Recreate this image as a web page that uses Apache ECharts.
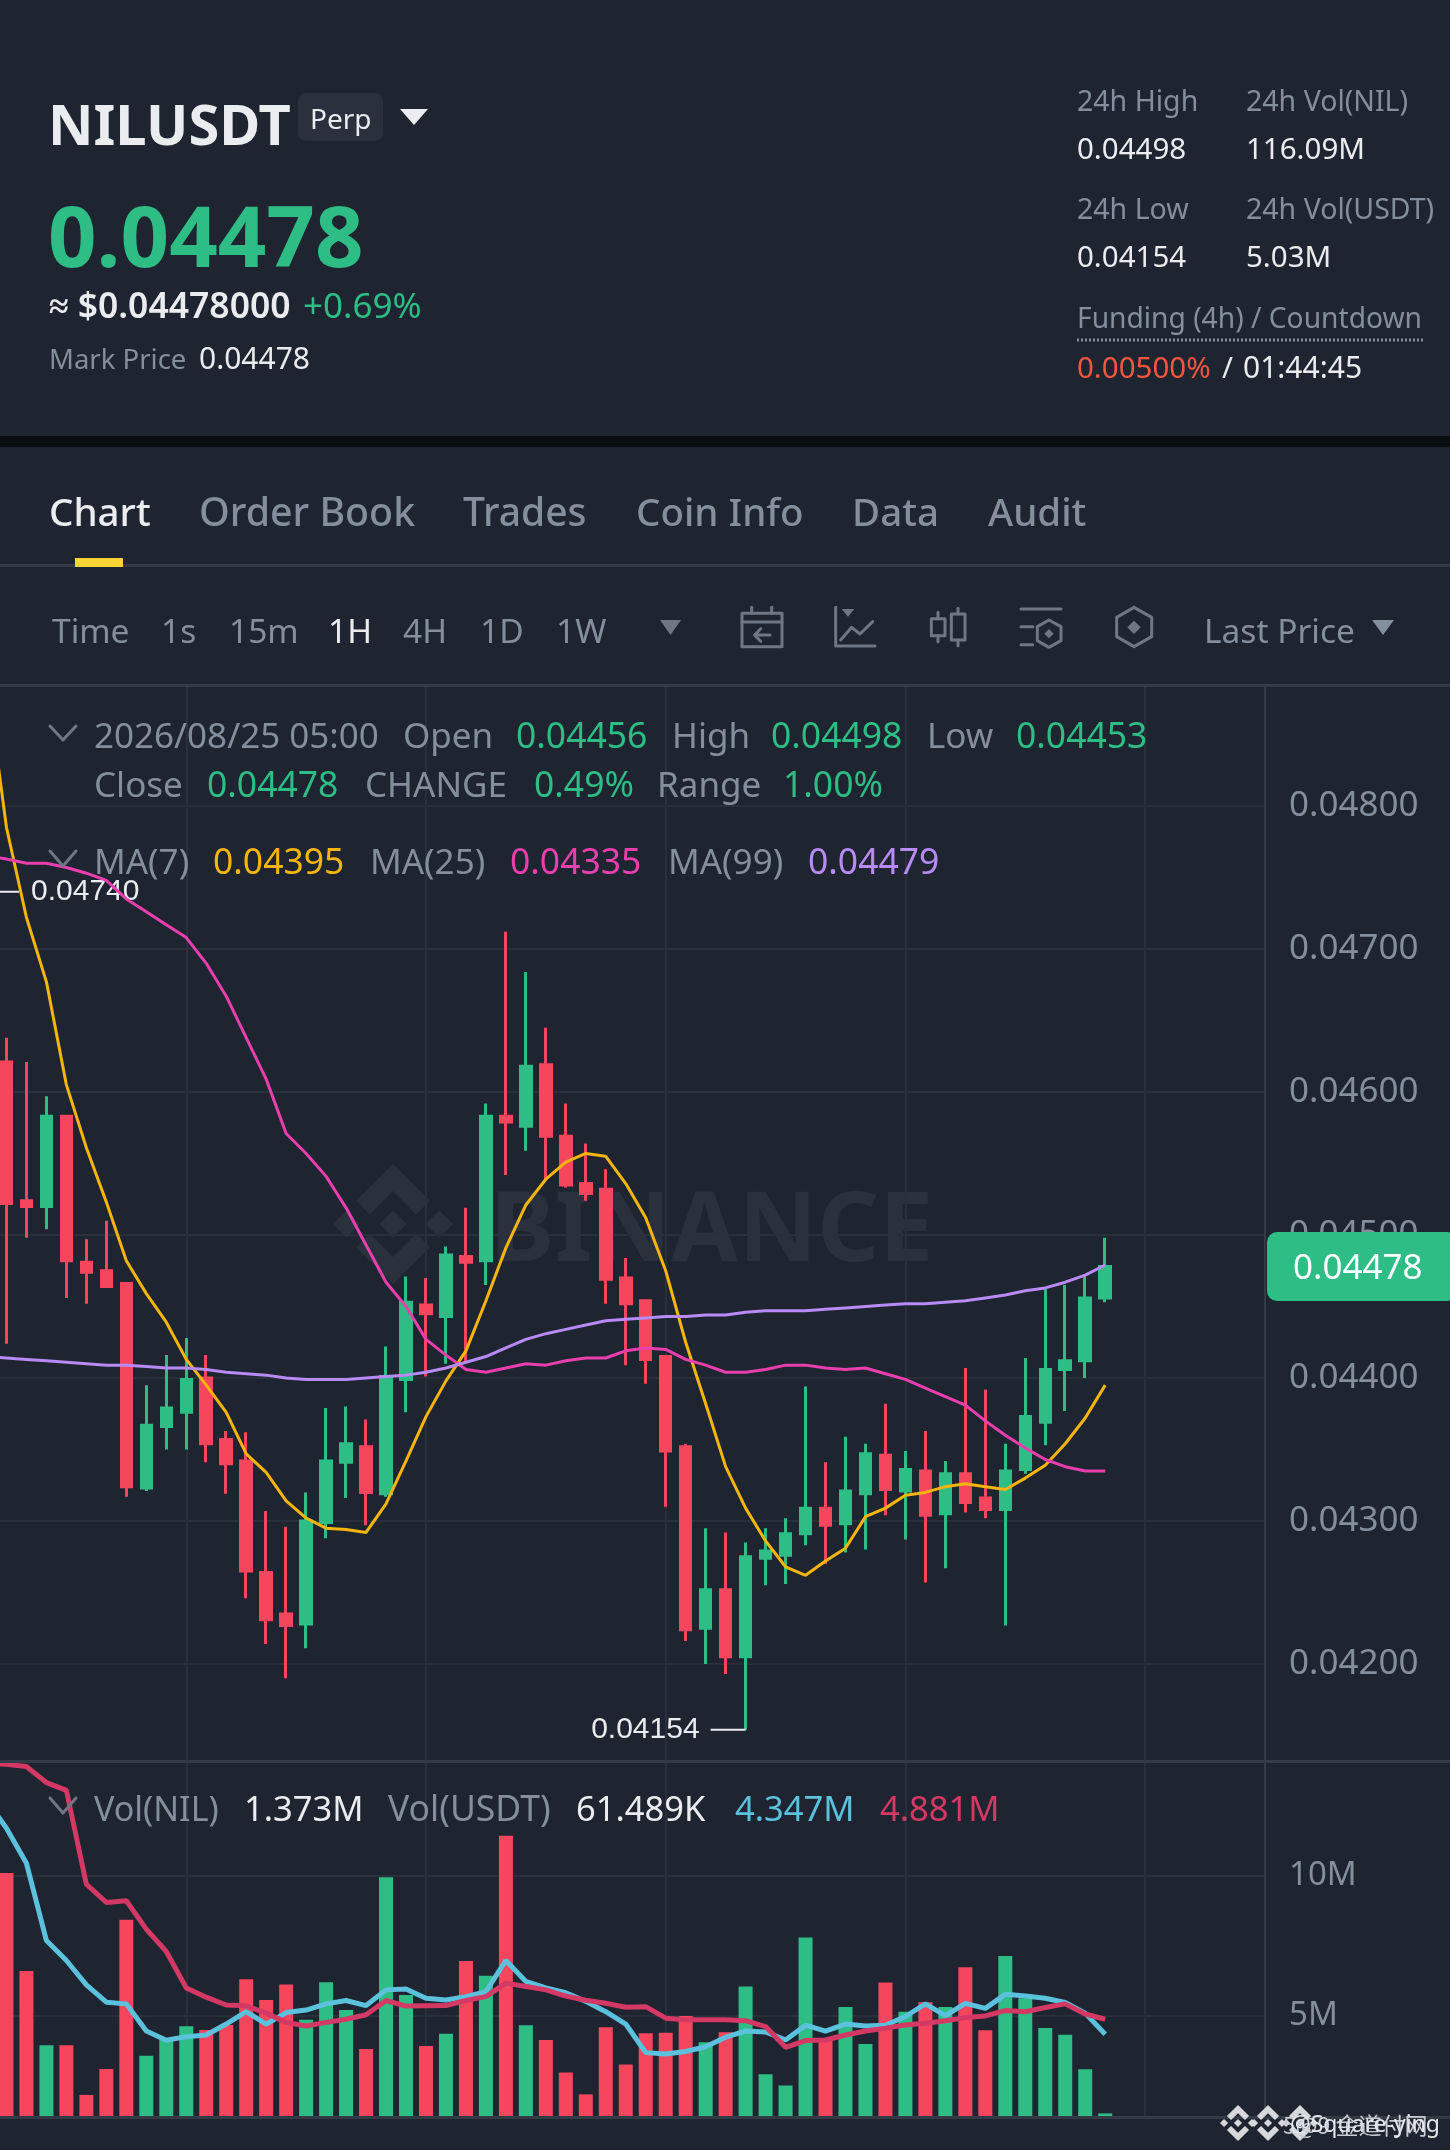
<!DOCTYPE html>
<html><head><meta charset="utf-8">
<style>html,body{margin:0;padding:0;background:#1e2530}#c{width:1450px;height:2150px}</style>
<script src="https://cdn.jsdelivr.net/npm/echarts@6/dist/echarts.min.js"></script>
</head><body><div id="c"></div>
<script>
// slots: first is the off-screen candle left of the view, the rest run up to the empty space at the right
const categories = [];
for (let i = 0; i < 65; i++) {
  const d = new Date(Date.UTC(2026, 7, 25, 5 - (56 - i)));
  categories.push(d.toISOString().slice(5, 16).replace('-', '/').replace('T', ' '));
}
const opens  = [0.04705,0.04621,0.04524,0.04520,0.04583,0.04481,0.04475,0.04466,0.04323,0.04366,0.04376,0.04400,0.04357,0.04342,0.04264,0.04235,0.04228,0.04299,0.04341,0.04352,0.04319,0.04399,0.04451,0.04443,0.04485,0.04482,0.04583,0.04576,0.04619,0.04569,0.04536,0.04532,0.04470,0.04454,0.04415,0.04352,0.04225,0.04252,0.04205,0.04274,0.04276,0.04291,0.04309,0.04298,0.04319,0.04346,0.04321,0.04335,0.04305,0.04333,0.04316,0.04308,0.04336,0.04369,0.04406,0.04412,0.04456];
const closes = [0.04625,0.04522,0.04520,0.04583,0.04482,0.04474,0.04464,0.04324,0.04367,0.04379,0.04399,0.04354,0.04340,0.04265,0.04231,0.04227,0.04300,0.04342,0.04354,0.04320,0.04401,0.04453,0.04445,0.04486,0.04481,0.04583,0.04579,0.04618,0.04569,0.04535,0.04529,0.04469,0.04452,0.04413,0.04349,0.04224,0.04252,0.04205,0.04275,0.04279,0.04291,0.04309,0.04297,0.04321,0.04347,0.04322,0.04336,0.04304,0.04333,0.04313,0.04308,0.04335,0.04373,0.04406,0.04412,0.04456,0.04478];
const lows   = [0.04610,0.04424,0.04498,0.04504,0.04456,0.04452,0.04463,0.04317,0.04321,0.04350,0.04350,0.04341,0.04319,0.04246,0.04214,0.04190,0.04211,0.04288,0.04316,0.04297,0.04317,0.04376,0.04401,0.04410,0.04410,0.04465,0.04542,0.04559,0.04538,0.04533,0.04524,0.04452,0.04409,0.04396,0.04310,0.04216,0.04200,0.04193,0.04154,0.04255,0.04256,0.04283,0.04270,0.04278,0.04280,0.04304,0.04287,0.04257,0.04267,0.04306,0.04302,0.04227,0.04333,0.04353,0.04377,0.04400,0.04453];
const highs  = [0.04740,0.04638,0.04621,0.04597,0.04583,0.04497,0.04510,0.04467,0.04395,0.04416,0.04428,0.04416,0.04363,0.04362,0.04307,0.04296,0.04320,0.04379,0.04380,0.04371,0.04422,0.04471,0.04470,0.04492,0.04519,0.04592,0.04712,0.04684,0.04645,0.04592,0.04564,0.04546,0.04484,0.04455,0.04416,0.04354,0.04295,0.04292,0.04285,0.04295,0.04302,0.04394,0.04341,0.04359,0.04354,0.04382,0.04349,0.04363,0.04342,0.04407,0.04392,0.04354,0.04414,0.04462,0.04465,0.04472,0.04498];
const ma7  = [0.04890,0.04785,0.04722,0.04677,0.04605,0.04561,0.04523,0.04482,0.04459,0.04439,0.04413,0.04395,0.04376,0.04347,0.04334,0.04314,0.04302,0.04295,0.04294,0.04292,0.04312,0.04342,0.04373,0.04398,0.04419,0.04454,0.04491,0.04521,0.04539,0.04551,0.04557,0.04555,0.04536,0.04512,0.04475,0.04425,0.04382,0.04338,0.04309,0.04286,0.04268,0.04262,0.04272,0.04281,0.04303,0.04309,0.04318,0.04320,0.04324,0.04326,0.04324,0.04322,0.04330,0.04339,0.04354,0.04372,0.04395];
const ma25 = [0.04765,0.04763,0.04760,0.04760,0.04757,0.04753,0.04748,0.04735,0.04726,0.04717,0.04708,0.04690,0.04667,0.04638,0.04609,0.04571,0.04557,0.04541,0.04519,0.04493,0.04467,0.04450,0.04427,0.04416,0.04406,0.04404,0.04407,0.04410,0.04409,0.04412,0.04414,0.04414,0.04419,0.04421,0.04420,0.04413,0.04409,0.04404,0.04404,0.04406,0.04409,0.04409,0.04407,0.04406,0.04407,0.04403,0.04399,0.04393,0.04387,0.04381,0.04370,0.04360,0.04351,0.04343,0.04338,0.04335,0.04335];
const ma99 = [0.04415,0.04414,0.04413,0.04412,0.04411,0.04410,0.04409,0.04409,0.04408,0.04407,0.04407,0.04406,0.04404,0.04403,0.04402,0.04400,0.04399,0.04399,0.04399,0.04400,0.04401,0.04402,0.04404,0.04407,0.04411,0.04415,0.04421,0.04427,0.04431,0.04434,0.04437,0.04440,0.04441,0.04442,0.04443,0.04443,0.04444,0.04444,0.04446,0.04447,0.04447,0.04447,0.04448,0.04449,0.04450,0.04451,0.04452,0.04452,0.04453,0.04454,0.04456,0.04458,0.04461,0.04463,0.04467,0.04472,0.04479];
// volume in millions
const volume = [9.00,10.10,6.60,3.95,3.95,2.18,3.11,8.43,3.58,4.15,4.63,4.50,4.68,6.31,5.57,6.12,4.86,6.20,5.21,3.82,9.95,5.75,3.93,4.36,6.96,6.43,11.43,4.67,4.14,2.98,2.20,4.60,3.27,4.38,4.40,5.00,4.06,4.42,6.05,2.92,2.52,7.80,4.12,5.32,4.00,6.19,5.15,5.49,5.32,6.74,4.49,7.14,5.63,4.57,4.33,3.10,1.52];
const volMaA = [12.71,11.70,10.45,7.69,6.98,6.11,5.49,5.43,4.46,4.13,4.26,4.32,4.71,5.15,4.71,5.12,5.21,5.43,5.55,5.37,5.93,5.96,5.63,5.57,5.69,5.87,6.98,6.23,6.00,5.83,5.52,5.15,4.71,3.69,3.64,3.73,3.90,4.24,4.46,4.43,4.14,4.67,4.46,4.71,4.64,4.67,4.98,5.43,5.01,5.45,5.27,5.77,5.71,5.63,5.48,5.10,4.347];
const volMaB = [14.02,13.98,13.90,13.33,13.05,9.70,9.05,9.11,8.10,7.30,6.00,5.67,5.39,5.36,5.10,4.77,4.64,4.77,4.88,5.04,5.55,5.35,5.36,5.37,5.55,5.69,6.17,6.05,5.93,5.71,5.56,5.45,5.31,5.33,4.92,4.86,4.86,4.86,4.83,4.62,3.88,4.12,4.14,4.32,4.46,4.56,4.68,4.74,4.83,4.94,5.00,5.19,5.15,5.30,5.43,5.07,4.881];
const lastPrice = 0.04478;
const highMark = 0.04740, lowMark = 0.04154;

const BG='#1e2530', GREEN='#2ebd85', RED='#f6465d', GREY='#848e9c', WHITE='#eaecef', GRID='#29303b', SEP='#333b47', ICON='#6f7785';
const FONT='"Noto Sans"';
const chart = echarts.init(document.getElementById('c'), null, {width:1450, height:2150, devicePixelRatio:1});

const candleData = opens.map((o,i)=>[o,closes[i],lows[i],highs[i]]);
const volBars = volume.map((v,i)=>({value:v,itemStyle:{color:closes[i]>=opens[i]?GREEN:RED}}));
const line = (name,data,color,width,xi)=>({name,type:'line',data,xAxisIndex:xi,yAxisIndex:xi,symbol:'none',silent:true,
  lineStyle:{color,width},itemStyle:{color},z:5});
const xAxisBase = gi=>({type:'category',gridIndex:gi,data:categories,boundaryGap:false,
  axisLine:{show:false},axisTick:{show:false},axisLabel:{show:false},
  splitLine:{show:true,interval:i=>i%12===10,lineStyle:{color:GRID,width:2}}});

chart.setOption({
  animation:false,backgroundColor:BG,
  grid:[{left:-13.5,width:1278.5,top:663,height:1144,outerBoundsMode:'none'},{left:-13.5,width:1278.5,top:1761,height:395,outerBoundsMode:'none'}],
  xAxis:[xAxisBase(0),xAxisBase(1)],
  yAxis:[
    {type:'value',gridIndex:0,position:'right',min:0.041,max:0.049,interval:0.001,scale:true,
     axisLine:{show:true,lineStyle:{color:SEP,width:2}},axisTick:{show:false},
     axisLabel:{color:GREY,fontSize:35,fontFamily:FONT,margin:24,showMinLabel:false,showMaxLabel:false,formatter:v=>v.toFixed(5)},
     splitLine:{show:true,showMinLine:false,showMaxLine:false,lineStyle:{color:GRID,width:2}}},
    {type:'value',gridIndex:1,position:'right',min:0,max:14.1,interval:5,
     axisLine:{show:true,lineStyle:{color:SEP,width:2}},axisTick:{show:false},
     axisLabel:{color:GREY,fontSize:33,fontFamily:FONT,margin:24,showMinLabel:false,showMaxLabel:false,formatter:v=>v+'M'},
     splitLine:{show:true,showMinLine:false,showMaxLine:false,lineStyle:{color:GRID,width:2}}}
  ],
  series:[
    {name:'NILUSDT',type:'candlestick',data:candleData,xAxisIndex:0,yAxisIndex:0,barWidth:11,z:3,
     itemStyle:{color:GREEN,color0:RED,borderColor:GREEN,borderColor0:RED,borderWidth:3},
     markPoint:{silent:true,animation:false,data:[
       {coord:[categories[0],highMark],symbol:'rect',symbolSize:[33,2],symbolOffset:[16,0],itemStyle:{color:WHITE},
        label:{show:true,position:'right',distance:12,formatter:highMark.toFixed(5),color:WHITE,fontSize:30,fontFamily:'"Liberation Sans"'}},
       {coord:[categories[38],lowMark],symbol:'rect',symbolSize:[35,2],symbolOffset:[-17.5,0],itemStyle:{color:WHITE},
        label:{show:true,position:'left',distance:11,formatter:lowMark.toFixed(5),color:WHITE,fontSize:30,fontFamily:'"Liberation Sans"'}}
     ]}},
    line('MA(7)',ma7,'#f5b50c',3,0),
    line('MA(25)',ma25,'#e93fae',3,0),
    line('MA(99)',ma99,'#b78af5',3,0),
    {name:'Vol',type:'bar',data:volBars,xAxisIndex:1,yAxisIndex:1,barWidth:14,z:3},
    line('MA(5) Vol',volMaA,'#5bc1dd',5,1),
    line('MA(10) Vol',volMaB,'#d43864',5,1)
  ]
});

// page furniture
const els=[];
const HI=100;
const t=(text,x,base,size,color,weight,family,align,z)=>els.push({type:'text',z:z===undefined?HI:z,silent:true,style:{
  text,x,y:base-size*0.255,fill:color||GREY,font:`${weight||400} ${size}px ${family||FONT}`,textAlign:align||'left',textVerticalAlign:'middle'}});
const box=(x,y,w,h,fill,r,z)=>els.push({type:'rect',z:z===undefined?HI:z,silent:true,shape:{x,y,width:w,height:h,r:r||0},style:{fill}});
const poly=(pts,fill,z)=>els.push({type:'polygon',z:z===undefined?HI:z,silent:true,shape:{points:pts},style:{fill}});
const pl=(pts,color,w,dash)=>els.push({type:'polyline',z:HI,silent:true,shape:{points:pts},style:{stroke:color,lineWidth:w,fill:'none',lineCap:dash?'butt':'round',lineJoin:'round',lineDash:dash||null}});
const logo=(cx,cy,s,color,z)=>{
  const p=a=>a.map(q=>[cx+q[0]*s,cy+q[1]*s]);
  poly(p([[-.388,-.16],[0,-.548],[.388,-.16],[.614,-.386],[0,-1],[-.614,-.386]]),color,z);
  poly(p([[-.388,.16],[0,.548],[.388,.16],[.614,.386],[0,1],[-.614,.386]]),color,z);
  [-.774,0,.774].forEach(c=>poly(p([[c-.226,0],[c,-.226],[c+.226,0],[c,.226]]),color,z));
};
// covers over the parts of the grids that lie outside the panes
box(0,0,1450,686,BG,0,50);
box(0,2118,1450,40,BG,0,50);
box(0,436,1450,11,'#0b0e11',0,55);
box(0,564,1450,3,SEP,0,60);
box(0,684,1450,3,SEP,0,60);
box(0,1760,1450,3,SEP,0,60);
box(0,2116,1450,3,SEP,0,60);

// watermark behind the chart
logo(393,1224,60,'#2a313c',-1);
t('BINANCE',490,1258,97,'#2a313c',700,FONT,'left',-1);

// header
t('NILUSDT',48,143,56,WHITE,700);
box(298,93,85,48,'#2a303c',8);
t('Perp',310,128,28,WHITE);
poly([[400,109],[428,109],[414,125]],WHITE);
t('0.04478',48,264,85,GREEN,700);
t('≈ $0.04478000',49,317,35.5,WHITE,600);
t('+0.69%',303,317,35,GREEN);
t('Mark Price',49,368,27.5,GREY);
t('0.04478',199,368,30,WHITE);
t('24h High',1077,110,28.5);
t('24h Vol(NIL)',1246,110,28.5);
t('0.04498',1077,158,29.5,WHITE);
t('116.09M',1246,158,29.5,WHITE);
t('24h Low',1077,218,28.5);
t('24h Vol(USDT)',1246,218,28.5);
t('0.04154',1077,266,29.5,WHITE);
t('5.03M',1246,266,29.5,WHITE);
t('Funding (4h) / Countdown',1077,327,28.2);
pl([[1077,340],[1423,340]],GREY,3,[2,2]);
t('0.00500%',1077,377,29.5,'#f6553f');
t('/',1222,377,29.5,WHITE);
t('01:44:45',1243,377,30,WHITE);

// tabs
t('Chart',49,525,38.5,WHITE,500);
t('Order Book',199,525,39.3,GREY,500);
t('Trades',463,525,39,GREY,500);
t('Coin Info',636,525,38.5,GREY,500);
t('Data',852,525,38.5,GREY,500);
t('Audit',988,525,38.5,GREY,500);
box(75,558,48,9,'#fcd535',0,65);

// interval row
t('Time',52,642,33.5);
t('1s',161,642,33.5);
t('15m',229,642,33.5);
t('1H',328,642,33.5,WHITE);
t('4H',403,642,33.5);
t('1D',480,642,33.5);
t('1W',556,642,33.5);
poly([[660,620],[681,620],[670.5,635]],ICON);
t('Last Price',1204,642,33.5);
poly([[1372,620],[1394,620],[1383,635]],GREY);

// toolbar icons (pen coordinates given on a 3x grid)
const ix=a=>a.map(q=>[720+q[0]/3,590+q[1]/3]);
const I=(a,w)=>pl(ix(a),ICON,w||3);
I([[66,70],[186,70],[186,170],[66,170],[66,70]]); I([[66,96],[186,96]]);
I([[95,52],[95,70]]); I([[155,52],[155,70]]); I([[105,135],[150,135]]); I([[122,116],[104,135],[122,154]]);
I([[347,52],[347,168],[465,168]]); poly(ix([[365,57],[403,57],[384,80]]),ICON); I([[362,150],[395,112],[420,132],[458,95]]);
I([[634,86],[675,86],[675,137],[634,137],[634,86]]); I([[654,67],[654,86]]); I([[654,137],[654,155]]);
I([[694,72],[735,72],[735,150],[694,150],[694,72]]); I([[714,55],[714,72]]); I([[714,150],[714,167]]);
I([[903,57],[1023,57]]); I([[903,110],[938,110]]); I([[903,164],[938,164]]);
I([[987,90],[1023,110],[1023,152],[987,172],[952,152],[952,110],[987,90]]); poly(ix([[973,131],[987,117],[1001,131],[987,145]]),ICON);
I([[1242,52],[1295,82],[1295,140],[1242,170],[1190,140],[1190,82],[1242,52]]); poly(ix([[1222,112],[1242,92],[1262,112],[1242,132]]),ICON);

// OHLC legend
const L=35, D=35.5;
t('2026/08/25 05:00',94,747,L); t('Open',403,747,L); t('0.04456',516,747,D,GREEN);
t('High',672,747,L); t('0.04498',771,747,D,GREEN); t('Low',927,747,L); t('0.04453',1016,747,D,GREEN);
t('Close',94,796,L); t('0.04478',207,796,D,GREEN); t('CHANGE',365,796,L); t('0.49%',534,796,D,GREEN);
t('Range',657,796,L); t('1.00%',783,796,D,GREEN);
t('MA(7)',94,873,L); t('0.04395',213,873,D,'#f5b50c'); t('MA(25)',370,873,L); t('0.04335',510,873,D,'#e93fae');
t('MA(99)',668,873,L); t('0.04479',808,873,D,'#b78af5');
t('Vol(NIL)',94,1820,34); t('1.373M',244,1820,34.5,WHITE); t('Vol(USDT)',388,1820,35.5); t('61.489K',576,1820,34.5,WHITE);
t('4.347M',735,1820,34.5,'#5bc1dd'); t('4.881M',880,1820,34.5,'#d43864');
[[726,740],[851,866],[1798,1813]].forEach(r=>pl([[50,r[0]],[63,r[1]],[76,r[0]]],ICON,3));

// last price tag, placed from the axis scale
const tagY=chart.convertToPixel({yAxisIndex:0},lastPrice);
box(1267,tagY-34.5,190,69,GREEN,10,HI);
t(lastPrice.toFixed(5),1293,tagY+11,35,'#ffffff');

// corner stamps
[1238,1268,1300].forEach(x=>logo(x,2123,18,'#d6d8dc',110));
t('5@9 金道付网',1283,2131,23,'#c9ccd1',400,'"Noto Sans CJK SC"','left',111);
t('@Square-ying',1290,2131,23,'#e4e6e9',400,FONT,'left',112);

chart.setOption({graphic:{elements:els}});
</script></body></html>
